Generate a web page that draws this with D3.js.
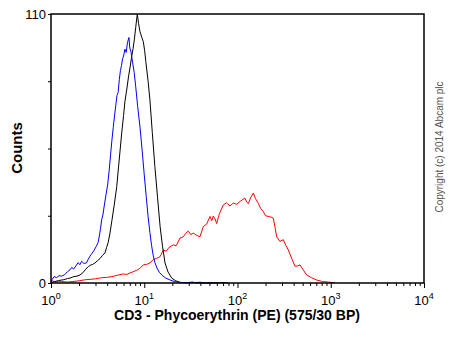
<!DOCTYPE html>
<html><head><meta charset="utf-8">
<script src="https://cdn.jsdelivr.net/npm/d3@7"></script>
<style>body{margin:0;background:#fff;}svg{display:block;}</style>
</head><body>
<svg id="c" width="450" height="337"></svg>
<script>
const xDomain = [1, 10000];
const yDomain = [0, 110];
const xTickValues = [1, 10, 100, 1000, 10000];
const xTickExponents = ["0", "1", "2", "3", "4"];
const yTickValues = [0, 27.5, 55, 82.5, 110];
const yTickLabels = ["0", "", "", "", "110"];
const xTitle = "CD3 - Phycoerythrin (PE) (575/30 BP)";
const yTitle = "Counts";
const copyright = "Copyright (c) 2014 Abcam plc";

const blue = [[1.00,0.5],[1.03,1.5],[1.08,2.6],[1.15,2.2],[1.22,3.0],[1.3,2.8],[1.4,3.4],[1.5,4.6],[1.6,5.4],[1.67,6.4],[1.75,5.7],[1.85,7.0],[1.95,8.3],[2.05,7.5],[2.13,8.9],[2.25,8.0],[2.4,8.2],[2.5,9.6],[2.62,11.0],[2.75,12.1],[2.9,13.4],[3.05,14.9],[3.2,16.6],[3.3,19.2],[3.4,22.4],[3.5,26.0],[3.6,27.8],[3.75,32.3],[3.9,36.4],[4.05,40.1],[4.2,45.8],[4.35,52.3],[4.5,58.4],[4.65,63.6],[4.8,68.3],[4.95,72.6],[5.1,76.7],[5.25,77.9],[5.4,83.1],[5.55,86.8],[5.7,88.9],[5.85,91.7],[6.0,92.8],[6.2,95.6],[6.4,94.3],[6.6,98.2],[6.85,100.4],[7.0,96.1],[7.2,94.6],[7.5,90.2],[7.8,86.1],[8.1,80.3],[8.5,72.2],[9.0,63.8],[9.5,54.1],[10,44.2],[10.5,35.3],[11,27.1],[11.5,20.6],[12,15.2],[12.5,11.1],[13,8.4],[13.7,6.1],[14.5,4.4],[15.5,3.2],[17,2.0],[19,1.2],[21,0.6],[24,0.3],[28,0.1],[33,0.4],[36,0],[60,0]];

const black = [[1.00,0.1],[1.1,0.6],[1.2,1.0],[1.35,1.3],[1.5,1.8],[1.6,2.0],[1.75,2.6],[1.9,2.8],[2.05,3.3],[2.2,4.2],[2.35,5.6],[2.51,6.7],[2.65,7.3],[2.8,7.6],[2.96,8.2],[3.15,9.1],[3.35,10.0],[3.55,11.2],[3.79,12.3],[3.95,14.6],[4.1,16.5],[4.29,20.4],[4.5,25.6],[4.75,31.5],[5.07,39.4],[5.3,47.5],[5.5,54.0],[5.73,61.3],[6.0,68.5],[6.2,74.1],[6.48,78.9],[6.8,84.7],[7.05,88.3],[7.33,92.6],[7.6,96.0],[7.82,99.4],[8.1,104.5],[8.42,110],[8.7,106.0],[9.0,102.8],[9.4,100.5],[9.77,98.7],[10.1,95.0],[10.4,90.5],[11.0,82.5],[11.5,74.9],[12.2,61.5],[13.0,47.6],[13.9,34.8],[14.8,23.0],[15.7,15.0],[16.7,8.2],[18.0,4.5],[19.7,2.0],[21.5,1.0],[24.2,0.2],[30,0.1],[40,0.3],[45,0],[55,0.2],[63,0],[70,0.2],[80,0]];

const red = [[1.00,0.2],[1.02,1.0],[1.1,0.4],[1.3,0.6],[1.5,0.4],[1.72,0.6],[2.0,0.9],[2.3,1.3],[2.62,1.5],[3.0,1.7],[3.4,2.1],[3.96,2.3],[4.5,2.6],[5.2,3.2],[5.96,3.7],[6.5,3.5],[7.03,4.1],[7.6,4.6],[8.3,5.2],[9.0,6.0],[9.77,7.4],[10.6,7.6],[11.5,8.2],[12.5,9.6],[13.6,10.1],[14.8,10.8],[16.0,13.5],[17.2,13.0],[18.5,14.6],[20.5,15.6],[22.0,15.2],[24.2,18.4],[26.2,18.9],[27.8,20.3],[29.7,21.2],[31.5,19.8],[33.6,20.4],[36.5,19.5],[39.6,18.9],[43.0,23.1],[46.5,24.0],[50.7,27.2],[53.0,25.5],[55.0,27.4],[57.5,26.2],[59.8,24.3],[64.0,28.4],[70.4,31.9],[76.0,32.8],[83.0,31.5],[90.2,32.7],[98.0,32.2],[108,33.5],[120,34.7],[126,33.0],[131,32.5],[138,34.8],[148,36.8],[156,34.5],[167,32.6],[177,30.5],[189,29.2],[200,27.5],[214,27.2],[228,27.0],[242,26.5],[252,23.0],[263,18.9],[285,17.0],[310,17.7],[330,15.4],[351,13.5],[380,10.2],[414,6.8],[440,7.0],[468,7.4],[510,5.2],[552,3.3],[620,2.2],[707,1.2],[820,0.6],[982,0.3],[1110,0.1]];

const seriesList = [
  {data: red, color: "#ff0000"},
  {data: black, color: "#000000"},
  {data: blue, color: "#0000ff"}
];

const svg = d3.select("#c");
const m = {left: 51, right: 424, top: 14, bottom: 283};
const x = d3.scaleLog().domain(xDomain).range([m.left, m.right]);
const y = d3.scaleLinear().domain(yDomain).range([m.bottom, m.top]);
const font = "'Liberation Sans', Arial, sans-serif";

// curves
const line = d3.line().x(d => x(d[0])).y(d => y(d[1]));
seriesList.forEach(s => {
  svg.append("path").datum(s.data).attr("d", line)
    .attr("fill", "none").attr("stroke", s.color).attr("stroke-width", 1);
});

// frame
svg.append("rect").attr("x", m.left).attr("y", m.top)
  .attr("width", m.right - m.left).attr("height", m.bottom - m.top)
  .attr("fill", "none").attr("stroke", "#000").attr("stroke-width", 1.5);

// x axis ticks (major and minor)
const minor = [];
for (let d = 1; d < 10000; d *= 10) for (let k = 2; k <= 9; k++) minor.push(d * k);
const xAxisMinor = d3.axisBottom(x).tickValues(minor).tickSize(3).tickFormat("");
const xAxisMajor = d3.axisBottom(x).tickValues(xTickValues).tickSize(5).tickFormat("");
[xAxisMinor, xAxisMajor].forEach(ax => {
  const g = svg.append("g").attr("transform", `translate(0,${m.bottom})`).call(ax);
  g.select(".domain").remove();
  g.selectAll("line").attr("stroke", "#000").attr("stroke-width", 1);
});
xTickValues.forEach((v, i) => {
  const t = svg.append("text").attr("x", x(v)).attr("y", 305)
    .attr("text-anchor", "middle").attr("font-family", font).attr("font-size", 13).attr("fill", "#000");
  t.append("tspan").text("10");
  t.append("tspan").attr("dy", -6).attr("font-size", 9).text(xTickExponents[i]);
});

// y axis
const yAxis = d3.axisLeft(y).tickValues(yTickValues).tickSize(3).tickFormat("");
const gy = svg.append("g").attr("transform", `translate(${m.left},0)`).call(yAxis);
gy.select(".domain").remove();
gy.selectAll("line").attr("stroke", "#000").attr("stroke-width", 1);
yTickValues.forEach((v, i) => {
  if (!yTickLabels[i]) return;
  svg.append("text").attr("x", 46).attr("y", y(v) + 4.5)
    .attr("text-anchor", "end").attr("font-family", font).attr("font-size", 13)
    .attr("fill", "#000").text(yTickLabels[i]);
});

// titles
svg.append("text").attr("x", 237).attr("y", 320).attr("text-anchor", "middle")
  .attr("font-family", font).attr("font-size", 14).attr("font-weight", "bold").text(xTitle);
svg.append("text").attr("transform", "translate(22,148) rotate(-90)").attr("text-anchor", "middle")
  .attr("font-family", font).attr("font-size", 15).attr("font-weight", "bold").text(yTitle);
svg.append("text").attr("transform", "translate(443,147) rotate(-90)").attr("text-anchor", "middle")
  .attr("font-family", font).attr("font-size", 10).attr("fill", "#555").text(copyright);
</script>
</body></html>
